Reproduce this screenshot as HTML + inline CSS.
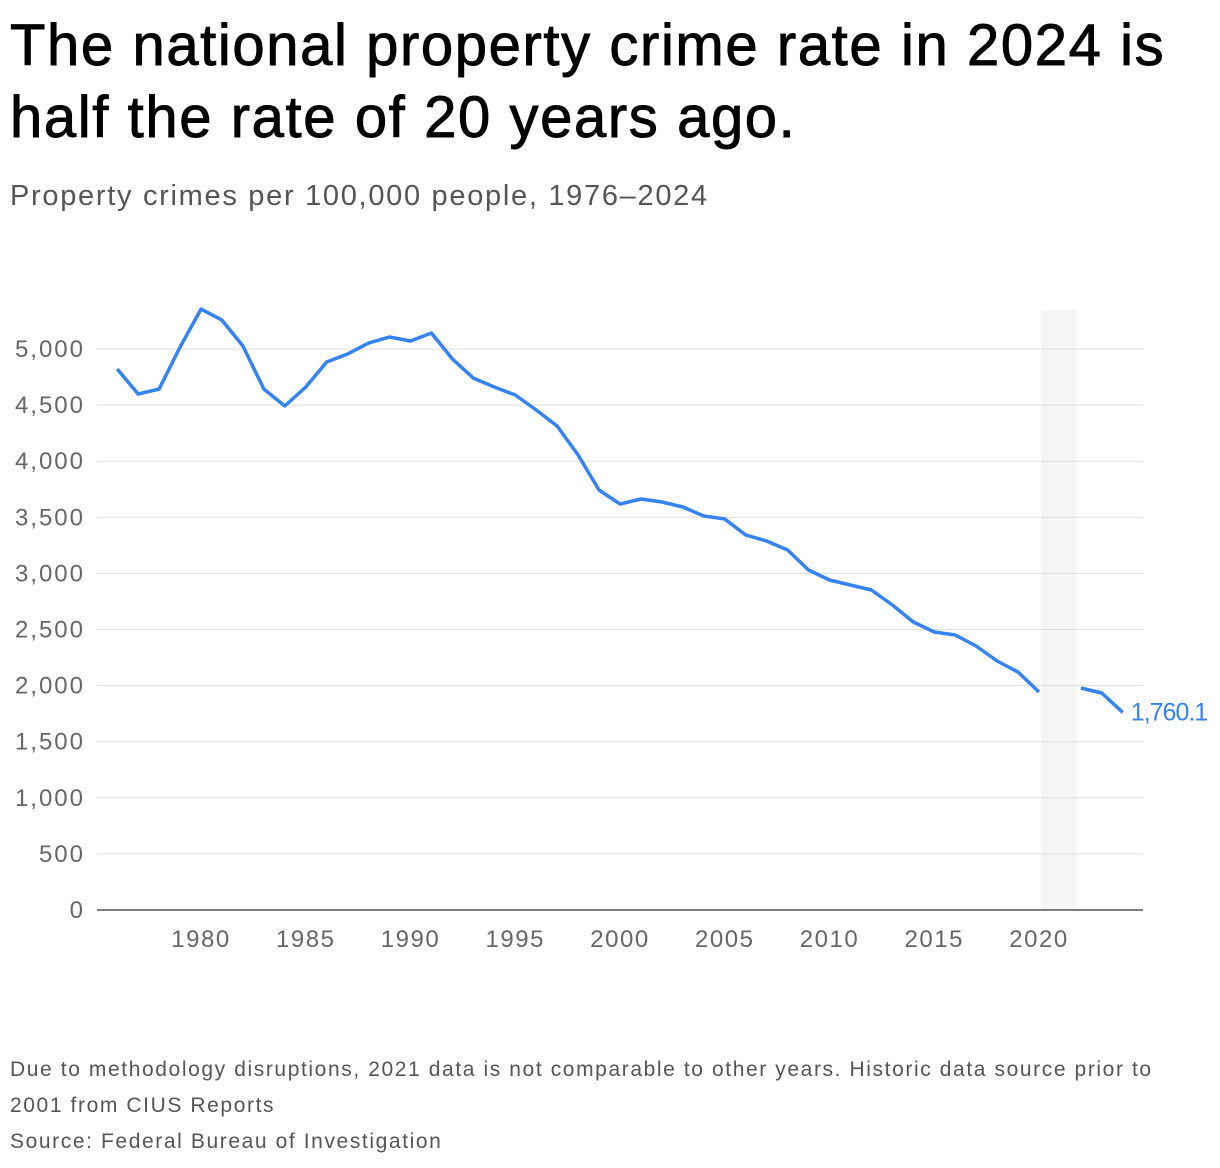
<!DOCTYPE html>
<html><head><meta charset="utf-8"><style>
body{margin:0;width:1220px;height:1168px;background:#fff;font-family:"Liberation Sans",sans-serif;position:relative;overflow:hidden}
h1{position:absolute;left:10px;top:10px;margin:0;font-size:58px;line-height:72px;font-weight:normal;color:#000;letter-spacing:1.6px;-webkit-text-stroke:0.9px #000;white-space:nowrap}
.sub{position:absolute;left:10px;top:180px;font-size:29px;color:#555;letter-spacing:1.7px;white-space:nowrap}
.note{position:absolute;left:10px;top:1052px;font-size:21px;line-height:36px;color:#555;letter-spacing:1.6px;white-space:nowrap}
svg{position:absolute;left:0;top:0}
</style></head><body>
<h1>The national property crime rate in 2024 is<br>half the rate of 20 years ago.</h1>
<div class="sub">Property crimes per 100,000 people, 1976–2024</div>
<svg id="chart" width="1220" height="1168"></svg>
<div class="note">Due to methodology disruptions, 2021 data is not comparable to other years. Historic data source prior to<br>2001 from CIUS Reports<br>Source: Federal Bureau of Investigation</div>
<script>
const years=[1976,1977,1978,1979,1980,1981,1982,1983,1984,1985,1986,1987,1988,1989,1990,1991,1992,1993,1994,1995,1996,1997,1998,1999,2000,2001,2002,2003,2004,2005,2006,2007,2008,2009,2010,2011,2012,2013,2014,2015,2016,2017,2018,2019,2020,2021,2022,2023,2024];
const rates=[4822,4599,4643,5018,5356,5258,5027,4643,4492,4661,4884,4955,5053,5107,5071,5143,4911,4741,4661,4590,4456,4314,4055,3743,3618,3663,3636,3592,3512,3485,3342,3289,3209,3030,2941,2897,2852,2718,2567,2478,2451,2353,2219,2121,1943,null,1979,1934,1760.1];
const yTicks=[0,500,1000,1500,2000,2500,3000,3500,4000,4500,5000];
const xTicks=[1980,1985,1990,1995,2000,2005,2010,2015,2020];
const bandRange=[2020.1,2021.8];
const NS="http://www.w3.org/2000/svg";
const svg=document.getElementById('chart');
const x=v=>201+(v-1980)*20.95;
const y=v=>910-v*0.1122;
function mk(t,a){const e=document.createElementNS(NS,t);for(const k in a)e.setAttribute(k,a[k]);svg.appendChild(e);return e;}
const band=mk('rect',{x:x(bandRange[0]),y:310,width:x(bandRange[1])-x(bandRange[0]),height:600,fill:'#f5f5f5'});


yTicks.forEach(t=>{
 const g=mk('line',{x1:97,x2:1143,y1:y(t),y2:y(t),stroke:t===0?'#555':'#ddd','stroke-width':t===0?1.5:1});
 
 
 const l=mk('text',{x:85,y:y(t)+8,'text-anchor':'end','font-size':24,fill:'#666','letter-spacing':'2'});
 l.textContent=t.toLocaleString('en-US');
 
 
});
xTicks.forEach(t=>{
 const l=mk('text',{x:x(t),y:947,'text-anchor':'middle','font-size':24,fill:'#666','letter-spacing':'1.5'});
 l.textContent=t;
 
 
});
let segs=[],cur=[];
years.forEach((yr,i)=>{if(rates[i]==null){if(cur.length)segs.push(cur);cur=[];}else cur.push(x(yr).toFixed(1)+','+y(rates[i]).toFixed(1));});
if(cur.length)segs.push(cur);
segs.forEach(s=>{
 const p=mk('polyline',{points:s.join(' '),fill:'none',stroke:'#3383f5','stroke-width':3.5,'stroke-linejoin':'round'});
 
 
});
const last=rates.length-1;
const lab=mk('text',{x:x(years[last])+8,y:y(rates[last])+8,'font-size':25,fill:'#3383f5','letter-spacing':'-1'});
lab.textContent=rates[last].toLocaleString('en-US',{minimumFractionDigits:1});


</script>
</body></html>
